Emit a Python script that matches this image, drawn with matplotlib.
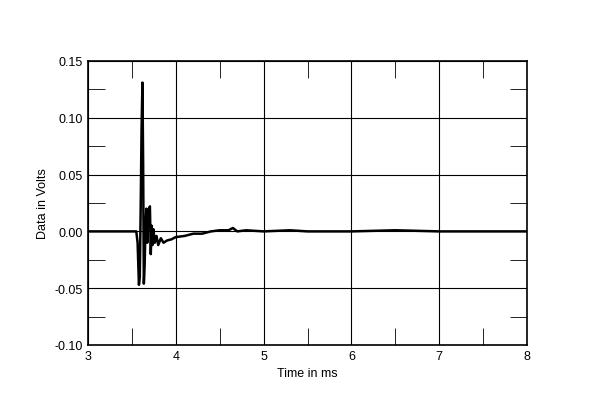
import matplotlib
matplotlib.use("Agg")
import matplotlib.pyplot as plt
from matplotlib.ticker import MultipleLocator

plt.rcParams['font.family'] = ['Liberation Sans', 'DejaVu Sans']

time_ms = [3.0, 3.55, 3.565, 3.58, 3.59, 3.60, 3.61, 3.62, 3.628, 3.636, 3.645, 3.655, 3.665, 3.675, 3.685,
           3.695, 3.705, 3.715, 3.725, 3.735, 3.745, 3.76, 3.78, 3.80, 3.83, 3.86, 3.9, 3.95, 4.0, 4.1,
           4.2, 4.3, 4.4, 4.5, 4.6, 4.65, 4.7, 4.8, 5.0, 5.3, 5.5, 6.0, 6.5, 7.0, 7.5, 8.0]
volts = [0.0, 0.0, -0.01, -0.047, -0.04, 0.02, 0.09, 0.131, 0.06, -0.046, -0.03, 0.005, 0.02, -0.01, 0.015,
         0.02, 0.022, -0.02, 0.005, -0.012, 0.002, -0.01, -0.004, -0.012, -0.006, -0.01, -0.008, -0.007, -0.005, -0.004,
         -0.002, -0.002, 0.0, 0.001, 0.001, 0.003, 0.0, 0.001, 0.0, 0.001, 0.0, 0.0, 0.001, 0.0, 0.0, 0.0]

fig = plt.figure(figsize=(6, 4.1), dpi=100)
ax = fig.add_axes([88/600, 1-346/410, (527-88)/600, (346-62)/410])
ax.plot(time_ms, volts, color="black", lw=1.8)
ax.set_xlim(3, 8)
ax.set_ylim(-0.10, 0.15)
ax.xaxis.set_major_locator(MultipleLocator(1))
ax.yaxis.set_major_locator(MultipleLocator(0.05))
ax.xaxis.set_minor_locator(MultipleLocator(0.5))
ax.yaxis.set_minor_locator(MultipleLocator(0.025))
ax.set_yticklabels([f"{v:.2f}" for v in ax.get_yticks()])
ax.grid(True, which="major", color="black", lw=0.8)
ax.tick_params(which="both", direction="in", top=True, right=True, labelsize=9)
ax.tick_params(which="major", length=0)
ax.tick_params(which="minor", length=12)
for s in ax.spines.values():
    s.set_linewidth(1.2)
ax.set_xlabel("Time in ms", fontsize=9)
ax.set_ylabel("Data in Volts", fontsize=9)
fig.savefig("out.png")
